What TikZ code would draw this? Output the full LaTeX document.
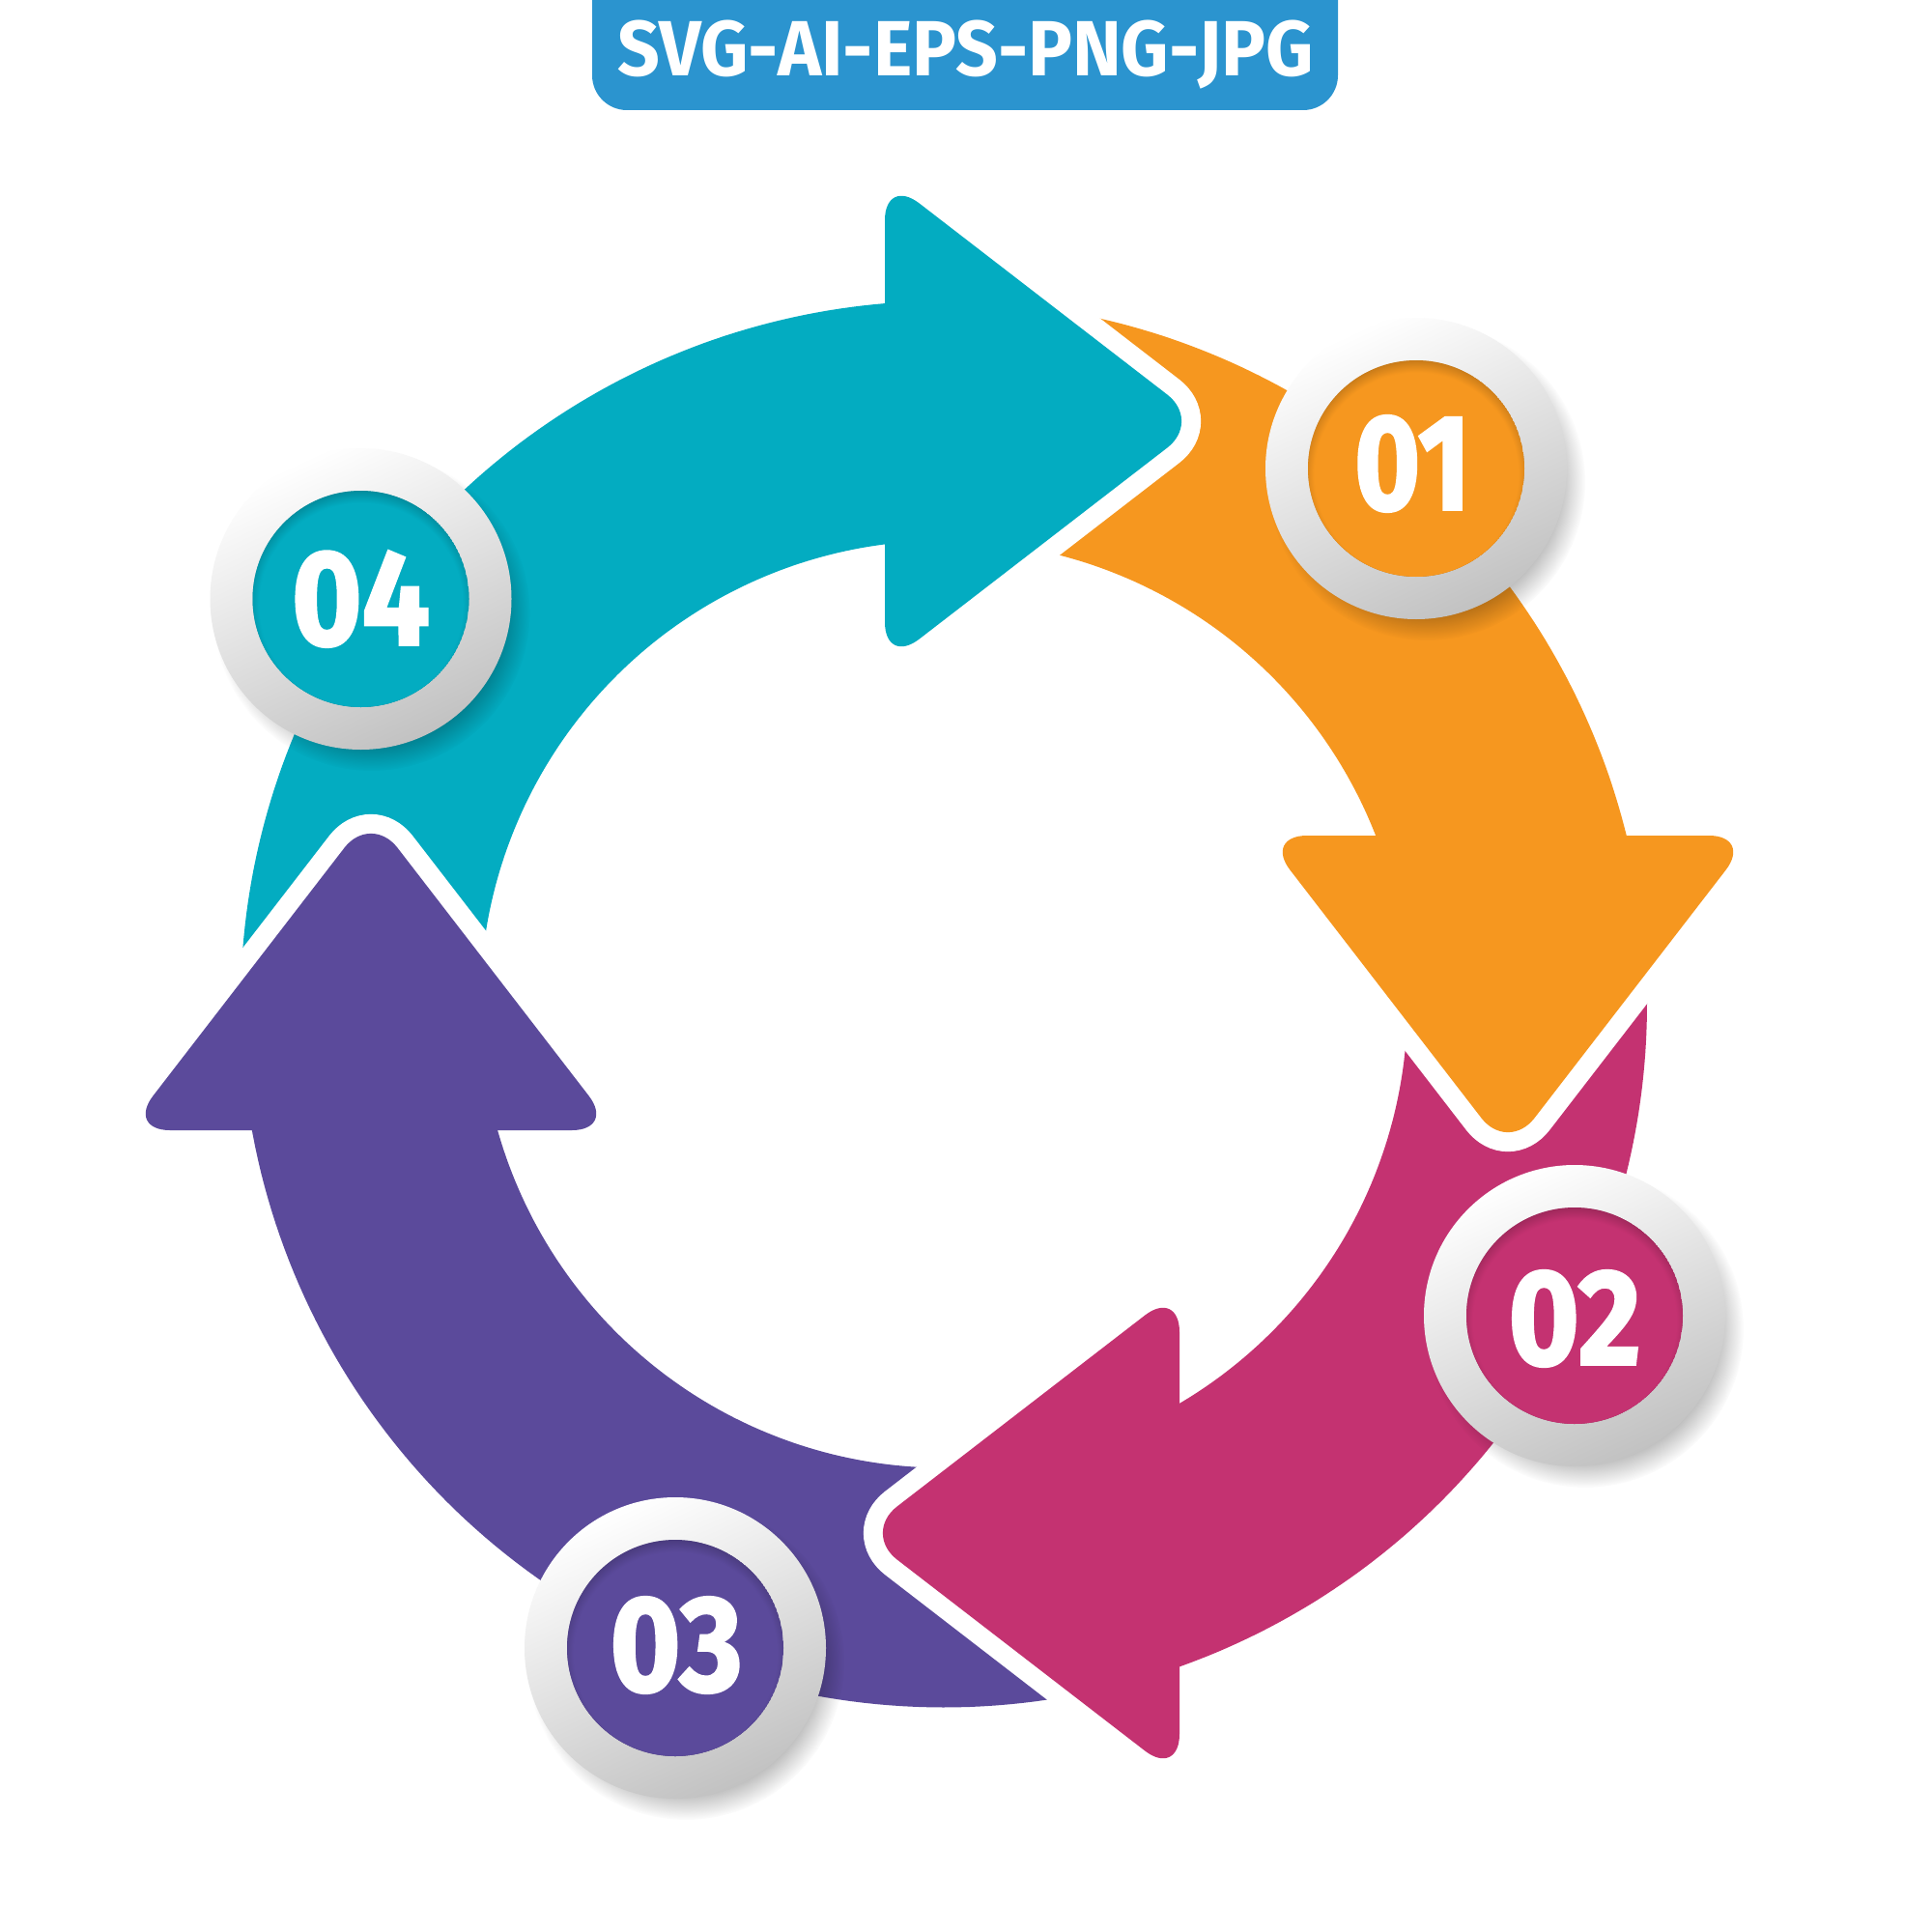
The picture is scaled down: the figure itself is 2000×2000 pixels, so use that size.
\documentclass[tikz,border=0pt]{standalone}
\usepackage{graphicx}
\usepackage{fontspec}
\newfontfamily\dinfont{Fira Sans}[BoldFeatures={FakeBold=2}]
\newfontfamily\titlefont{Fira Sans}
\usetikzlibrary{calc,fadings}
\definecolor{cteal}{RGB}{3,172,193}
\definecolor{corange}{RGB}{246,151,31}
\definecolor{cmagenta}{RGB}{196,50,113}
\definecolor{cpurple}{RGB}{91,74,155}
\definecolor{cbanner}{RGB}{43,148,207}
% ring band between two screen angles (clockwise on screen)
\newcommand{\myband}[3]{\fill[#1] plot[domain=#2:#3,samples=100] ({977+728*cos(\x)},{1039.5+728*sin(\x)}) -- plot[domain=#3:#2,samples=100] ({977+480*cos(\x)},{1039.5+480*sin(\x)}) -- cycle;}
% arrow head: colour, back corner A, tip T, back corner B
\newcommand{\myhead}[4]{%
  \draw[white, line width=0.4cm, rounded corners=0.45cm] #2 -- #3 -- #4;
  \fill[#1, rounded corners=0.45cm] #2 -- #3 -- #4 -- cycle;}
% badge: centre, colour
\newcommand{\mybadge}[2]{%
  \fill[black, opacity=0.3, path fading=circle with fuzzy edge 20 percent] ($(#1)+(11,14)$) circle (164);
  \shade[top color=white, middle color=white, bottom color=black!24, shading angle=25] (#1) circle (156);
  \begin{scope}
    \clip (#1) circle (112);
    \fill[#2!72!black] (#1) circle (112);
    \fill[#2, path fading=circle with fuzzy edge 15 percent] ($(#1)+(0,6)$) circle (124);
  \end{scope}}
\tikzset{numlabel/.style={text=white, inner sep=0pt}}
\begin{document}
\begin{tikzpicture}[x=0.01cm, y=-0.01cm]
\useasboundingbox (0,0) rectangle (2000,2000);
\fill[white] (0,0) rectangle (2000,2000);
% bands
\myband{cteal}{176}{270}
\myband{corange}{268}{354}
\myband{cmagenta}{-5}{76}
\myband{cpurple}{74}{180}
% heads
\myhead{cteal}{(916,183)}{(1244,436)}{(916,689)}
\myhead{corange}{(1814,865)}{(1561,1193)}{(1308,865)}
\myhead{cmagenta}{(1221,1840)}{(893,1587)}{(1221,1334)}
\myhead{cpurple}{(131,1170)}{(384,842)}{(637,1170)}
% badges
\coordinate (b1) at (1466,485);
\coordinate (b2) at (1630,1362);
\coordinate (b3) at (699,1706);
\coordinate (b4) at (373.5,620);
\mybadge{b1}{corange}
\mybadge{b2}{cmagenta}
\mybadge{b3}{cpurple}
\mybadge{b4}{cteal}
\node[numlabel] (n1) at (1462,480) {\resizebox{1.20cm}{0.97cm}{\dinfont\bfseries 01}};
\node[numlabel] (n2) at (1630,1365) {\resizebox{1.37cm}{0.97cm}{\dinfont\bfseries 02}};
\node[numlabel] (n3) at (700,1703) {\resizebox{1.37cm}{0.97cm}{\dinfont\bfseries 03}};
\node[numlabel] (n4) at (373.5,620) {\resizebox{1.43cm}{0.97cm}{\dinfont\bfseries 04}};
% banner
\begin{scope}
  \clip (0,0) rectangle (2000,2000);
  \fill[cbanner, rounded corners=0.36cm] (613,-60) rectangle (1385,114);
\end{scope}
\node[numlabel] (title) at (1000,57) {\resizebox{7.2cm}{0.575cm}{\titlefont\bfseries SVG-AI-EPS-PNG-JPG}};
\end{tikzpicture}
\end{document}
